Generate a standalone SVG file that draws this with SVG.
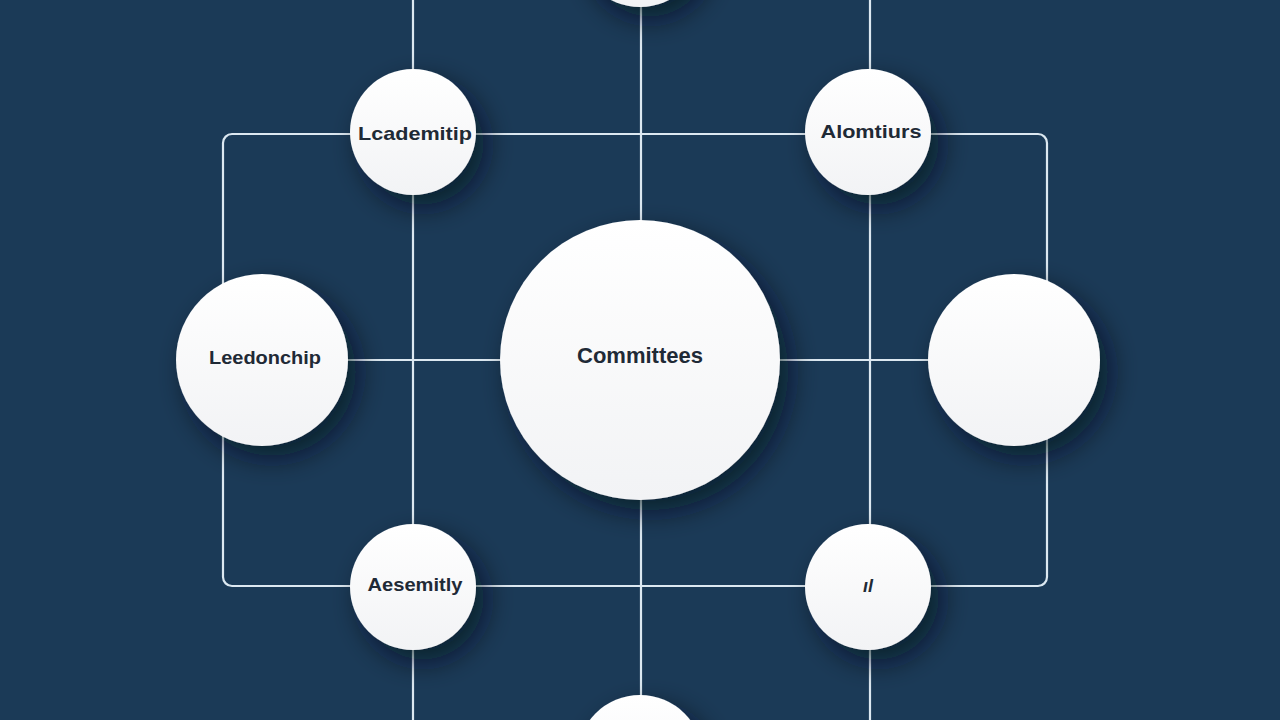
<svg xmlns="http://www.w3.org/2000/svg" width="1280" height="720" viewBox="0 0 1280 720">
<style>
.ln{stroke:#dce8f1;stroke-width:2.2;fill:none}
.nd{fill:url(#wg);filter:url(#sh)}
.lb{font-family:"Liberation Sans",Arial,sans-serif;font-weight:bold;fill:#1f2a36;text-anchor:middle}
</style>
<defs>
<linearGradient id="wg" x1="0" y1="0" x2="0" y2="1">
<stop offset="0" stop-color="#ffffff"/>
<stop offset="1" stop-color="#f2f3f5"/>
</linearGradient>
<filter id="sh" x="-50%" y="-50%" width="200%" height="200%">
<feGaussianBlur in="SourceAlpha" stdDeviation="14"/>
<feOffset dx="10" dy="12" result="b"/>
<feFlood flood-color="#06111c" flood-opacity="0.65"/>
<feComposite in2="b" operator="in"/>
<feMerge><feMergeNode/><feMergeNode in="SourceGraphic"/></feMerge>
</filter>
</defs>
<rect width="1280" height="720" fill="#1b3a57"/>
<g id="connectors">
<rect class="ln" x="223" y="134" width="824" height="452" rx="9"/>
<line class="ln" x1="413" y1="0" x2="413" y2="720"/>
<line class="ln" x1="641" y1="0" x2="641" y2="720"/>
<line class="ln" x1="870" y1="0" x2="870" y2="720"/>
<line class="ln" x1="223" y1="360" x2="1047" y2="360"/>
</g>
<g id="node-top"><circle class="nd" cx="640" cy="-56" r="63"/></g>
<g id="node-bottom"><circle class="nd" cx="640" cy="758" r="63"/></g>
<g id="node-leadership-top"><circle class="nd" cx="413" cy="132" r="63"/><text class="lb" x="415" y="140" font-size="19" textLength="114" lengthAdjust="spacingAndGlyphs">Lcademitip</text></g>
<g id="node-alomtiurs"><circle class="nd" cx="868" cy="132" r="63"/><text class="lb" x="871" y="138" font-size="19" textLength="101" lengthAdjust="spacingAndGlyphs">Alomtiurs</text></g>
<g id="node-leedonchip"><circle class="nd" cx="262" cy="360" r="86"/><text class="lb" x="265" y="364" font-size="19" textLength="112" lengthAdjust="spacingAndGlyphs">Leedonchip</text></g>
<g id="node-committees"><circle class="nd" cx="640" cy="360" r="140"/><text class="lb" x="640" y="363" font-size="22" textLength="126" lengthAdjust="spacingAndGlyphs">Committees</text></g>
<g id="node-right"><circle class="nd" cx="1014" cy="360" r="86"/></g>
<g id="node-aesemitly"><circle class="nd" cx="413" cy="587" r="63"/><text class="lb" x="415" y="591" font-size="19" textLength="95" lengthAdjust="spacingAndGlyphs">Aesemitly</text></g>
<g id="node-br"><circle class="nd" cx="868" cy="587" r="63"/><text class="lb" x="868" y="592" font-size="18" font-style="italic">ıl</text></g>
</svg>
